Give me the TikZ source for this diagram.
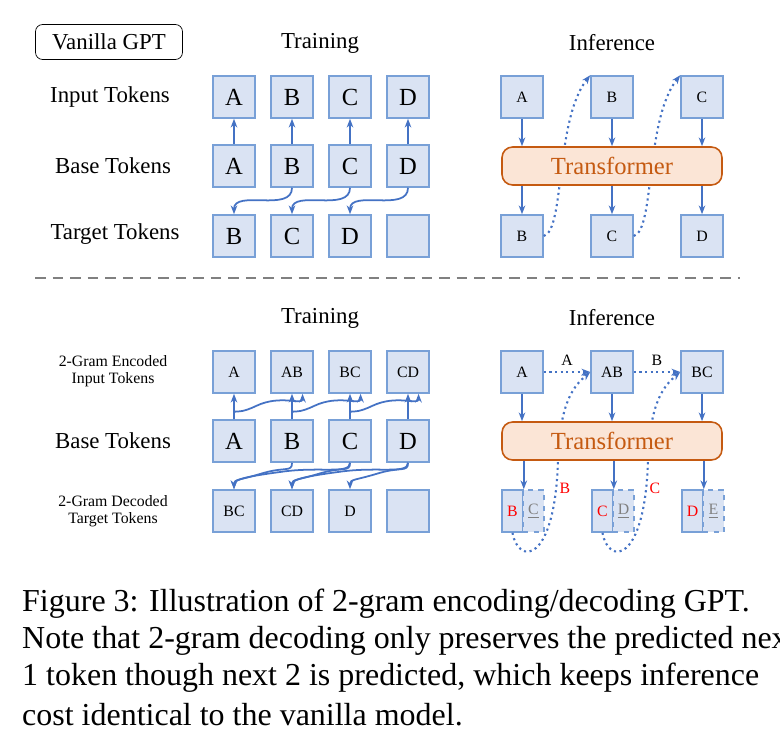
\documentclass[tikz,border=0pt]{standalone}
\usepackage{fontspec}
\setmainfont{Liberation Serif}
\usetikzlibrary{arrows.meta}
\definecolor{boxfill}{RGB}{218,227,243}
\definecolor{boxline}{RGB}{120,160,215}
\definecolor{arr}{RGB}{68,114,196}
\definecolor{tfill}{RGB}{251,229,214}
\definecolor{tline}{RGB}{197,90,17}
\tikzset{
  tok/.style={draw=boxline,fill=boxfill,line width=0.9pt,minimum size=0.84cm,inner sep=0pt},
  half/.style={draw=boxline,fill=boxfill,line width=0.9pt,minimum width=0.42cm,minimum height=0.84cm,inner sep=0pt},
  halfd/.style={half,dashed},
  trans/.style={draw=tline,fill=tfill,rounded corners=6pt,line width=0.9pt,minimum width=4.4cm,minimum height=0.76cm,text=tline,font=\fontsize{14}{15}\selectfont},
  big/.style={font=\fontsize{14}{15}\selectfont},
  small/.style={font=\fontsize{9}{10}\selectfont},
  lab/.style={font=\fontsize{13}{14}\selectfont},
  ar/.style={arr,line width=1pt,-{Stealth[length=5pt]}},
  dot/.style={arr,line width=1.2pt,dotted,-{Stealth[length=5pt]}},
  captxt/.style={anchor=west,font=\fontsize{18.2}{20}\selectfont},
}
\begin{document}
\begin{tikzpicture}[x=0.02cm,y=-0.02cm]
\useasboundingbox (0,0) rectangle (780,743);
% header
\node[draw,rounded corners=4pt,minimum width=2.94cm,minimum height=0.7cm,lab] (vg) at (109,42) {Vanilla GPT};
\node[lab] (tr1) at (320,43) {Training};
\node[lab] (in1) at (612,43) {Inference};
\node[lab] (l1) at (110,97) {Input Tokens};
\node[lab] (l2) at (113,166) {Base Tokens};
\node[lab] (l3) at (115,234) {Target Tokens};
% top training
\node[tok,big] (ia) at (234,97) {A};
\node[tok,big] (ib) at (292,97) {B};
\node[tok,big] (ic) at (350,97) {C};
\node[tok,big] (id) at (408,97) {D};
\node[tok,big] (ba) at (234,166) {A};
\node[tok,big] (bb) at (292,166) {B};
\node[tok,big] (bc) at (350,166) {C};
\node[tok,big] (bd) at (408,166) {D};
\node[tok,big] (ta) at (234,236) {B};
\node[tok,big] (tb) at (292,236) {C};
\node[tok,big] (tc) at (350,236) {D};
\node[tok] (td) at (408,236) {};
\draw[ar] (ba) -- (ia);
\draw[ar] (bb) -- (ib);
\draw[ar] (bc) -- (ic);
\draw[ar] (bd) -- (id);
\draw[ar] (bb.south) to[out=-90,in=90] (ta.north);
\draw[ar] (bc.south) to[out=-90,in=90] (tb.north);
\draw[ar] (bd.south) to[out=-90,in=90] (tc.north);
% top inference
\node[tok,small] (xa) at (522,97) {A};
\node[tok,small] (xb) at (612,97) {B};
\node[tok,small] (xc) at (702,97) {C};
\node[tok,small] (ya) at (522,236) {B};
\node[tok,small] (yb) at (612,236) {C};
\node[tok,small] (yc) at (702,236) {D};
\draw[dot] (ya.east) .. controls (565,230) and (555,120) .. (xb.north west);
\draw[dot] (yb.east) .. controls (655,230) and (645,120) .. (xc.north west);
\node[trans] (tf1) at (612,166) {Transformer};
\draw[ar] (xa) -- (xa|-tf1.north);
\draw[ar] (xb) -- (xb|-tf1.north);
\draw[ar] (xc) -- (xc|-tf1.north);
\draw[ar] (ya|-tf1.south) -- (ya);
\draw[ar] (yb|-tf1.south) -- (yb);
\draw[ar] (yc|-tf1.south) -- (yc);
% separator
\draw[gray,line width=1pt,dash pattern=on 6pt off 4pt] (35,278) coordinate (s1) -- (740,278) coordinate (s2);
% bottom training
\node[lab] (tr2) at (320,318) {Training};
\node[lab] (in2) at (612,318) {Inference};
\node[small,align=center] (l4) at (113,371) {2-Gram Encoded\\Input Tokens};
\node[lab] (l5) at (113,441) {Base Tokens};
\node[small,align=center] (l6) at (113,511) {2-Gram Decoded\\Target Tokens};
\node[tok,small] (ea) at (234,372) {A};
\node[tok,small] (eb) at (292,372) {AB};
\node[tok,small] (ec) at (350,372) {BC};
\node[tok,small] (ed) at (408,372) {CD};
\node[tok,big] (ga) at (234,441) {A};
\node[tok,big] (gb) at (292,441) {B};
\node[tok,big] (gc) at (350,441) {C};
\node[tok,big] (gd) at (408,441) {D};
\node[tok,small] (da) at (234,511) {BC};
\node[tok,small] (db) at (292,511) {CD};
\node[tok,small] (dc) at (350,511) {D};
\node[tok] (dd) at (408,511) {};
\draw[ar] (ga) -- (ea);
\draw[ar] (ga.north) .. controls +(0,-15) and +(-25,12) .. (256,406) .. controls +(25,-12) and +(0,12) .. ([xshift=6]eb.south);
\draw[ar] (gb.north) -- (eb.south);
\draw[ar] (gb.north) .. controls +(0,-15) and +(-25,12) .. (314,406) .. controls +(25,-12) and +(0,12) .. ([xshift=6]ec.south);
\draw[ar] (gc.north) -- (ec.south);
\draw[ar] (gc.north) .. controls +(0,-15) and +(-25,12) .. (372,406) .. controls +(25,-12) and +(0,12) .. ([xshift=6]ed.south);
\draw[ar] (gd.north) -- (ed.south);
\draw[ar] (gb.south) .. controls +(0,10) and +(25,-8) .. (260,474) .. controls +(-20,6) and +(0,-10) .. (da.north);
\draw[ar] (gc.south) .. controls +(0,12) and +(40,-6) .. (280,472) .. controls +(-30,4) and +(0,-10) .. (da.north);
\draw[ar] (gc.south) .. controls +(0,10) and +(25,-8) .. (318,474) .. controls +(-20,6) and +(0,-10) .. (db.north);
\draw[ar] (gd.south) .. controls +(0,12) and +(40,-6) .. (338,472) .. controls +(-30,4) and +(0,-10) .. (db.north);
\draw[ar] (gd.south) .. controls +(0,10) and +(25,-8) .. (376,474) .. controls +(-20,6) and +(0,-10) .. (dc.north);
% bottom inference
\node[tok,small] (pa) at (522,372) {A};
\node[tok,small] (pb) at (612,372) {AB};
\node[tok,small] (pc) at (702,372) {BC};
\node[half,small,text=red] (qa) at (512.5,511) {B};
\node[halfd,small,text=gray] (qa2) at (533.5,511) {\underline{C}};
\node[half,small,text=red] (qb) at (602.5,511) {C};
\node[halfd,small,text=gray] (qb2) at (623.5,511) {\underline{D}};
\node[half,small,text=red] (qc) at (692.5,511) {D};
\node[halfd,small,text=gray] (qc2) at (713.5,511) {\underline{E}};
\draw[dot] (pa) -- node[above,small,text=black] {A} (pb);
\draw[dot] (pb) -- node[above,small,text=black] {B} (pc);
\draw[dot] (qa.south) .. controls (518,565) and (555,565) .. (558,460) .. controls (560,400) and (575,385) .. (pb.west);
\draw[dot] (qb.south) .. controls (608,565) and (645,565) .. (648,460) .. controls (650,400) and (665,385) .. (pc.west);
\node[small,text=red] (rb) at (565,488) {B};
\node[small,text=red] (rc) at (655,488) {C};
\node[trans] (tf2) at (612,441) {Transformer};
\draw[ar] (pa) -- (pa|-tf2.north);
\draw[ar] (pb) -- (pb|-tf2.north);
\draw[ar] (pc) -- (pc|-tf2.north);
\draw[ar] (qa.north east|-tf2.south) -- (qa.north east);
\draw[ar] (qb.north east|-tf2.south) -- (qb.north east);
\draw[ar] (qc.north east|-tf2.south) -- (qc.north east);
% caption
\node[captxt] (c1) at (16,604) {Figure 3: Illustration of 2-gram encoding/decoding GPT.};
\node[captxt] (c2) at (16,641) {Note that 2-gram decoding only preserves the predicted next};
\node[captxt] (c3) at (16,678) {1 token though next 2 is predicted, which keeps inference};
\node[captxt] (c4) at (16,715) {cost identical to the vanilla model.};
\end{tikzpicture}
\end{document}
